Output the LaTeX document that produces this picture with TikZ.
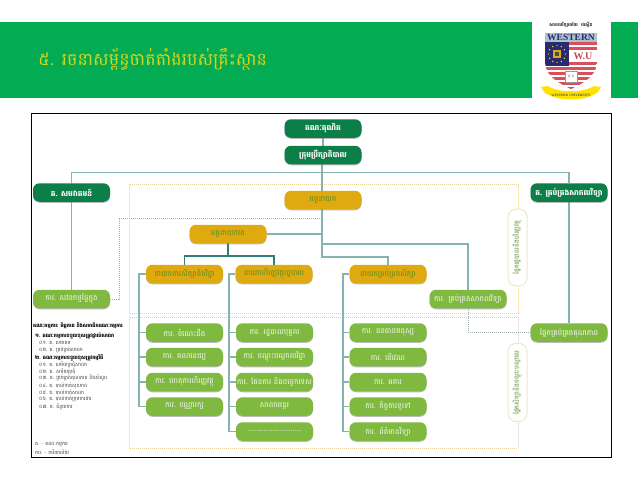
\documentclass[tikz,border=0pt]{standalone}
\usepackage{fontspec}
\newfontfamily\khm[Script=Khmer]{Battambang}
\newfontfamily\lat{Liberation Serif}
\usetikzlibrary{backgrounds,shadows}
\definecolor{bandg}{HTML}{03AC52}
\definecolor{titley}{HTML}{D4D41E}
\definecolor{darkg}{HTML}{0C7F48}
\definecolor{lightg}{HTML}{7FB93F}
\definecolor{yell}{HTML}{DFAA0F}
\definecolor{yelltxt}{HTML}{5E8A1E}
\definecolor{conn}{HTML}{86B2B2}
\definecolor{connd}{HTML}{2F7F78}
\definecolor{dots}{HTML}{A4B0B0}
\definecolor{orng}{HTML}{E9CF98}
\definecolor{pale}{HTML}{EFE8C8}
\definecolor{navy}{HTML}{2A2A70}
\definecolor{stripe}{HTML}{D8505A}
\tikzset{
  orgbox/.style={rounded corners=6.5pt,minimum width=77pt,minimum height=18.5pt,inner sep=0pt,align=center,
    font=\khm\fontsize{7.5}{9}\selectfont,
    drop shadow={shadow xshift=0pt,shadow yshift=-1pt,opacity=.45,fill=black!60}},
  boxdark/.style={orgbox,fill=darkg,text=white,font=\khm\bfseries\fontsize{7.5}{9}\selectfont},
  boxlight/.style={orgbox,fill=lightg,text=white!92!lightg},
  boxyellow/.style={orgbox,fill=yell,text=yelltxt},
  pill/.style={draw=pale,line width=1pt,fill=white,rounded corners=8pt,minimum width=19pt,inner sep=0pt},
  linkline/.style={draw=conn,line width=1.1pt},
  linkdark/.style={draw=connd,line width=1.1pt},
  dotline/.style={draw=dots,line width=1pt,densely dotted},
  orngbox/.style={draw=orng,line width=1pt,densely dotted},
  listtxt/.style={anchor=west,inner sep=0pt,text=black!75,font=\khm\fontsize{5}{6}\selectfont},
  listhead/.style={anchor=west,inner sep=0pt,text=black,font=\khm\bfseries\fontsize{5}{6}\selectfont}
}
\begin{document}
\begin{tikzpicture}[x=1pt,y=-1pt]
\useasboundingbox (0,0) rectangle (638,479);
% header band
\fill[bandg] (0,22) rectangle (532,97.5);
\fill[bandg] (611,22) rectangle (638,97.5);
\node[anchor=west,inner sep=0pt,text=titley,font=\khm\fontsize{17.5}{20}\selectfont] (title) at (38,59) {៥. រចនាសម្ព័ន្ធចាត់តាំងរបស់គ្រឹះស្ថាន};
% logo
\node[inner sep=0pt,text=black!80,font=\khm\bfseries\fontsize{4.5}{5}\selectfont] (logotext) at (571,25) {សាកលវិទ្យាល័យ\ \ វេស្ទើន};
\begin{scope}
  \clip (545,33) -- (597,33) -- (597,62) .. controls (597,76) and (582,84) .. (571,89) .. controls (560,84) and (545,76) .. (545,62) -- cycle;
  \fill[white] (545,33) rectangle (597,92);
  \foreach \yy in {42,47,62}{\fill[stripe] (569,\yy) rectangle (597,\yy+2.5);}
  \foreach \yy in {67,72,77,82,87}{\fill[stripe] (545,\yy) rectangle (597,\yy+2.5);}
  \fill[navy] (545,42) rectangle (569,66);
  \foreach \a in {0,30,...,330}{\fill[yellow!85] ({557+8.5*cos(\a)},{54+8.5*sin(\a)}) circle (.7pt);}
  \fill[yell] (553,50) rectangle (561,58);
  \fill[black!70] (555,52) rectangle (559,56);
  \fill[cyan!30!gray!60] (545,33) rectangle (597,42);
\end{scope}
\node[inner sep=0pt,text=navy,font=\lat\bfseries\fontsize{9.5}{10}\selectfont] (logow) at (571,37.5) {WESTERN};
\node[inner sep=0pt,text=stripe!90!black,font=\lat\bfseries\fontsize{10}{10}\selectfont] (logou) at (583,56) {W.U};
\fill[white,draw=black!40,line width=.3pt] (565,71) rectangle (577,82);
\node[inner sep=0pt,text=black!70,font=\khm\fontsize{3.5}{4}\selectfont] (logoyear) at (571,76) {៥ ៦};
\fill[yellow!85!orange] (541,87) -- (548,86) .. controls (558,93) and (584,93) .. (594,86) -- (601,87) -- (598,92) .. controls (586,102) and (556,102) .. (544,92) -- cycle;
\node[inner sep=0pt,text=black!70,font=\lat\bfseries\fontsize{3.4}{4}\selectfont] (logor) at (571,95) {WESTERN UNIVERSITY};
% frame
\draw[black,line width=1pt] (31,113) rectangle (611,457);
% top chain
\node[boxdark] (top) at (323,128.5) {គណៈគុណិត};
\node[boxdark] (board) at (323,155) {ក្រុមប្រឹក្សាភិបាល};
\node[boxyellow] (rector) at (323,200) {អគ្គនាយក};
\node[boxyellow] (vice) at (228,234) {អគ្គនាយករង};
\node[boxdark] (cl) at (71.5,192.5) {គ. សមវាគមន៍};
\node[boxdark] (cr) at (569,192.5) {គ. គ្រប់គ្រងសាកលវិទ្យា};
\node[boxlight] (audit) at (71.5,299) {ការ. សវនកម្មផ្ទៃក្នុង};
\node[boxlight] (qa) at (468,299) {ការ. គ្រប់គ្រងសាកលវិទ្យា};
\node[boxlight] (council) at (569,332.5) {ផ្នែកគ្រប់គ្រងគុណភាព};
% directors
\node[boxyellow] (d1) at (184.5,274) {នាយកការសិក្សានិងវិជ្ជា};
\node[boxyellow] (d2) at (274,274) {នាយកហិរញ្ញវត្ថុរដ្ឋបាល};
\node[boxyellow] (d3) at (388,274) {នាយកគ្រប់គ្រងសិក្សា};
% column 1
\node[boxlight] (a1) at (184.5,332.5) {ការ. ចំណេះដឹង};
\node[boxlight] (a2) at (184.5,357) {ការ. គណនេយ្យ};
\node[boxlight] (a3) at (184.5,382) {ការ. ហេតុការហិរញ្ញវត្ថុ};
\node[boxlight] (a4) at (184.5,406.5) {ការ. បណ្ណារក្ស};
% column 2
\node[boxlight] (b1) at (274.5,332.5) {ការ. រដ្ឋបាលបុគ្គល};
\node[boxlight] (b2) at (274.5,357) {ការ. បណ្តុះបណ្តាលវិជ្ជា};
\node[boxlight] (b3) at (274.5,382) {ការ. ផែនការ និងបច្ចេកទេស};
\node[boxlight] (b4) at (274.5,406.5) {សាលាអន្តរ};
\node[boxlight] (b5) at (274.5,431.5) {..............................};
% column 3
\node[boxlight] (c1) at (388,332.5) {ការ. ធនធានមនុស្ស};
\node[boxlight] (c2) at (388,357) {ការ. បរិវេណ};
\node[boxlight] (c3) at (388,382) {ការ. អគារ};
\node[boxlight] (c4) at (388,406.5) {ការ. កិច្ចការទូទៅ};
\node[boxlight] (c5) at (388,431.5) {ការ. ព័ត៌មានវិទ្យា};
% pills
\node[pill,minimum height=77pt] (p1) at (517.5,247.5) {};
\node[rotate=90,inner sep=0pt,text=yelltxt,font=\khm\fontsize{6.5}{8}\selectfont] (p1t) at (p1.center) {ផ្នែករដ្ឋបាលនិងហិរញ្ញវត្ថុ};
\node[pill,minimum height=78pt] (p2) at (517.5,382.5) {};
\node[rotate=90,inner sep=0pt,text=yelltxt,font=\khm\fontsize{6.5}{8}\selectfont] (p2t) at (p2.center) {ផ្នែកសិក្សានិងបណ្តុះបណ្តាល};
% side text
\node[listhead] (l0) at (33,326) {គណៈកម្មការ: មិត្តភាព និងសមាជិកគណៈកម្មការ};
\node[listhead] (l1) at (35,336) {១. គណៈកម្មការទទួលខុសត្រូវផ្ទាល់សាលា};
\node[listtxt] (l2) at (39,343) {០១. គ. សមាគម};
\node[listtxt] (l3) at (39,350) {០២. គ. គ្រប់គ្រងសាលា};
\node[listhead] (l4) at (35,358) {២. គណៈកម្មការទទួលខុសត្រូវកម្មវិធី};
\node[listtxt] (l5) at (39,365) {០១. គ. សម័យប្រជុំសាលា};
\node[listtxt] (l6) at (39,372) {០២. គ. សម័យប្រជុំ};
\node[listtxt] (l7) at (39,378) {០៣. គ. គ្រប់គ្រងគុណភាព និងសំណួរ};
\node[listtxt] (l8) at (39,386) {០៤. គ. បាល់ទាត់សុខភាព};
\node[listtxt] (l9) at (39,392) {០៥. គ. បាល់ទាត់សាលា};
\node[listtxt] (l10) at (39,399) {០៦. គ. បាល់ទាត់ក្រុមការងារ};
\node[listtxt] (l11) at (39,407) {០៧. គ. ជំនួយការ};
\node[listtxt] (l12) at (35,445) {គ. - គណៈកម្មការ};
\node[listtxt] (l13) at (35,452) {ការ. - ការិយាល័យ};
% connectors and frames behind the boxes
\begin{scope}[on background layer]
  \draw[orngbox] (129,313) -- (129,184) -- (518,184) -- (518,313) -- cycle;
  \draw[orngbox] (129,317) -- (129,448) -- (518,448) -- (518,317) -- cycle;
  \coordinate (jT) at (322,172.5);
  \coordinate (jV) at (322,234);
  \coordinate (jQ) at (322,244);
  \coordinate (jD) at (322,257);
  \coordinate (jW) at (228,256);
  \coordinate (jA) at (322,218);
  \draw[linkline] (top) -- (board);
  \draw[linkline] (board.south -| jT) -- (jD) -| (d3.north);
  \draw[linkline] (cl.north) |- (jT) -| (cr.north);
  \draw[linkline] (cl) -- (audit);
  \draw[linkline] (cr) -- (council);
  \draw[linkline] (vice.east) -- (jV);
  \draw[linkline] (jQ) -| (qa.north);
  \draw[linkdark] (vice.south) -- (jW);
  \draw[linkdark] (d1.north) |- (jW) -| (d2.north);
  \draw[dotline] (audit.east) -- ++(9,0) |- (jA);
  \draw[dotline] (qa.south) |- (council.west);
  \coordinate (s1) at (139,274);
  \coordinate (s2) at (229,274);
  \coordinate (s3) at (343,274);
  \draw[linkline] (d1.west) -- (s1) |- (a4.west);
  \draw[linkline] (d2.west) -- (s2) |- (b5.west);
  \draw[linkline] (d3.west) -- (s3) |- (c5.west);
  \foreach \n in {a1,a2,a3} \draw[linkline] (s1 |- \n.west) -- (\n.west);
  \foreach \n in {b1,b2,b3,b4} \draw[linkline] (s2 |- \n.west) -- (\n.west);
  \foreach \n in {c1,c2,c3,c4} \draw[linkline] (s3 |- \n.west) -- (\n.west);
\end{scope}
\end{tikzpicture}
\end{document}
